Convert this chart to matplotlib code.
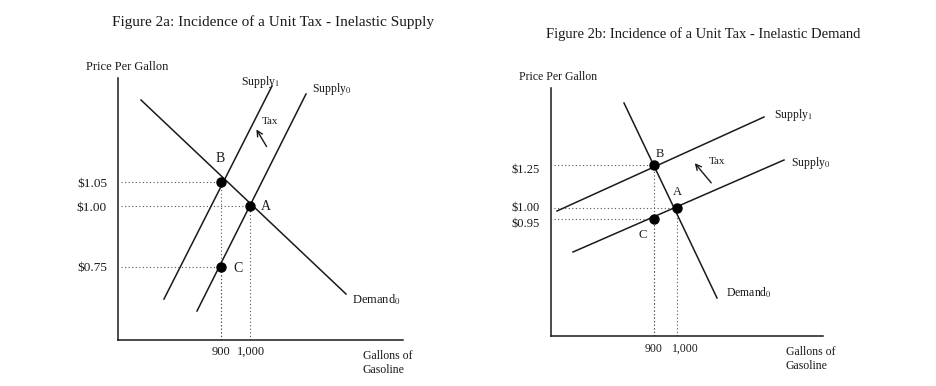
import matplotlib.pyplot as plt

plt.rcParams['font.family'] = 'Liberation Serif'
plt.rcParams['mathtext.fontset'] = 'stix'

# schematic units (the original drawing is not to scale)
# panel a: inelastic supply
a_demand_x = [23, 228]
a_demand_y = [240, 46]
a_supply1_x = [46, 154]
a_supply1_y = [41, 254]
a_supply0_x = [79, 188]
a_supply0_y = [29, 246]
a_pts_x = [103, 132, 103]          # B, A, C
a_pts_y = [158, 134, 73]
a_qty_pos = [103, 133]
a_qty_labels = ['900', '1,000']
a_price_pos = [158, 134, 73]
a_price_labels = ['$1.05', '$1.00', '$0.75']

# panel b: inelastic demand
b_demand_x = [73, 166]
b_demand_y = [233, 38]
b_supply1_x = [6, 213]
b_supply1_y = [125, 219]
b_supply0_x = [22, 233]
b_supply0_y = [84, 176]
b_pts_x = [103, 126, 103]          # B, A, C
b_pts_y = [171, 128, 117]
b_qty_pos = [103, 134]
b_qty_labels = ['900', '1,000']
b_price_pos = [167, 129, 113]      # labels sit a little apart from the guides
b_price_labels = ['$1.25', '$1.00', '$0.95']

W, H = 936, 386
fig = plt.figure(figsize=(W / 100, H / 100), dpi=100)
ink = '#1a1a1a'


def make_axes(x0, y0, x1, y1):
    # pixel box of the axes (origin lower-left at x0,y0 ; top-right x1,y1)
    ax = fig.add_axes([x0 / W, (H - y0) / H, (x1 - x0) / W, (y0 - y1) / H])
    ax.set_xlim(0, x1 - x0)
    ax.set_ylim(0, y0 - y1)
    for s in ['top', 'right']:
        ax.spines[s].set_visible(False)
    for s in ['left', 'bottom']:
        ax.spines[s].set_color(ink)
        ax.spines[s].set_linewidth(1.1)
    ax.patch.set_alpha(0)
    return ax


def guides(ax, xs, ys):
    for x, y in zip(xs, ys):
        ax.plot([3, x], [y, y], ls=(0, (1, 2.2)), color='#555', lw=0.8)
        ax.plot([x, x], [0, y], ls=(0, (1, 2.2)), color='#555', lw=0.8)


# ---------- panel a ----------
ax = make_axes(118, 340, 403, 78)
guides(ax, a_pts_x, a_pts_y)
ax.plot(a_demand_x, a_demand_y, color=ink, lw=1.1)
ax.plot(a_supply1_x, a_supply1_y, color=ink, lw=1.1)
ax.plot(a_supply0_x, a_supply0_y, color=ink, lw=1.1)
ax.plot(a_pts_x, a_pts_y, 'o', color='black', ms=6.5)
ax.set_xticks(a_qty_pos, a_qty_labels)
ax.set_yticks(a_price_pos, a_price_labels)
ax.tick_params(length=0, labelsize=9.5, colors=ink)
ax.tick_params(axis='x', labelsize=9, pad=4)
ax.tick_params(axis='y', pad=8)
ax.text(102, 181, 'B', fontsize=10, ha='center', va='center', color=ink)
ax.text(148, 134, 'A', fontsize=10, ha='center', va='center', color=ink)
ax.text(120, 72, 'C', fontsize=10, ha='center', va='center', color=ink)
ax.annotate('', xy=(137, 213), xytext=(150, 191),
            arrowprops=dict(arrowstyle='->', color=ink, lw=1.0))
ax.text(152, 219, 'Tax', fontsize=8, ha='center', va='center', color=ink)
ax.text(142, 258, 'Supply$_1$', fontsize=8.5, ha='center', va='center', color=ink)
ax.text(214, 251, 'Supply$_0$', fontsize=8.5, ha='center', va='center', color=ink)
ax.text(234, 40, 'Demand$_0$', fontsize=9, ha='left', va='center', color=ink)
ax.text(9, 273, 'Price Per Gallon', fontsize=9, ha='center', va='center', color=ink)
ax.text(245, -23, 'Gallons of\nGasoline', fontsize=8.5, ha='left', va='center',
        color=ink, linespacing=1.3)
fig.text(273 / W, 1 - 22 / H, 'Figure 2a: Incidence of a Unit Tax - Inelastic Supply',
         fontsize=11, ha='center', va='center', color=ink)

# ---------- panel b ----------
bx = make_axes(551, 336, 823, 88)
guides(bx, b_pts_x, b_pts_y)
bx.plot(b_demand_x, b_demand_y, color=ink, lw=1.1)
bx.plot(b_supply1_x, b_supply1_y, color=ink, lw=1.1)
bx.plot(b_supply0_x, b_supply0_y, color=ink, lw=1.1)
bx.plot(b_pts_x, b_pts_y, 'o', color='black', ms=6.5)
bx.set_xticks(b_qty_pos, b_qty_labels)
bx.set_yticks(b_price_pos, b_price_labels)
bx.tick_params(length=0, labelsize=9, colors=ink)
bx.tick_params(axis='x', labelsize=8.5, pad=5)
bx.tick_params(axis='y', pad=8)
bx.text(109, 182, 'B', fontsize=9, ha='center', va='center', color=ink)
bx.text(126, 144, 'A', fontsize=9, ha='center', va='center', color=ink)
bx.text(92, 101, 'C', fontsize=9, ha='center', va='center', color=ink)
bx.annotate('', xy=(142, 175), xytext=(162, 151),
            arrowprops=dict(arrowstyle='->', color=ink, lw=1.0))
bx.text(166, 174, 'Tax', fontsize=8, ha='center', va='center', color=ink)
bx.text(223, 221, 'Supply$_1$', fontsize=8.5, ha='left', va='center', color=ink)
bx.text(240, 173, 'Supply$_0$', fontsize=8.5, ha='left', va='center', color=ink)
bx.text(175, 43, 'Demand$_0$', fontsize=8.5, ha='left', va='center', color=ink)
bx.text(7, 259, 'Price Per Gallon', fontsize=8.5, ha='center', va='center', color=ink)
bx.text(235, -23, 'Gallons of\nGasoline', fontsize=8.5, ha='left', va='center',
        color=ink, linespacing=1.2)
fig.text(703 / W, 1 - 34 / H, 'Figure 2b: Incidence of a Unit Tax - Inelastic Demand',
         fontsize=10.5, ha='center', va='center', color=ink)

fig.savefig('out.png', dpi=100)
